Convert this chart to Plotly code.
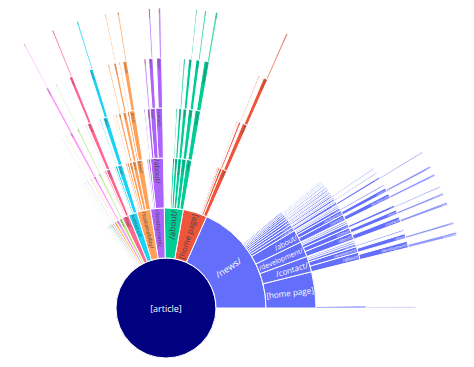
import plotly.graph_objects as go

ROOT = "[article]"
ROOT_VALUE = 3600

# Level-1 pages (value units: 0.1 degree of the full circle)
level1_paths = ["/news/", "[home page]", "/about/", "/development/", "/sustainability/",
                "/contact us/", "/blog/", "/events/", "/team/", "/careers/",
                "/projects/", "/services/", "/faq/", "/press/", "/partners/",
                "/privacy/", "/search/", "/login/", "/jobs/", "/shop/"]
level1_values = [660, 140, 110, 80, 80, 50, 40, 21, 19, 15,
                 12, 10, 8, 7, 6, 5, 4.5, 4, 3.5, 3]

news_paths = [
    "/news/|[home page]", "/news/|[home page]|/contact/", "/news/|[home page]|/contact/|/about/",
    "/news/|/contact/", "/news/|/contact/|/about/", "/news/|/contact/|/about/|/development/",
    "/news/|/contact/|/about/|/development/|[home page]",
    "/news/|/contact/|/development/", "/news/|/contact/|/development/|/about/",
    "/news/|/contact/|/development/|/about/|/contact/",
    "/news/|/contact/|/sustainability/", "/news/|/contact/|/sustainability/|/blog/",
    "/news/|/contact/|/blog/", "/news/|/contact/|/events/",
    "/news/|/development/", "/news/|/development/|/about/", "/news/|/development/|/about/|/contact/",
    "/news/|/development/|/about/|/contact/|/news/",
    "/news/|/development/|/contact/", "/news/|/development/|/contact/|/about/",
    "/news/|/development/|/contact/|/about/|[home page]",
    "/news/|/development/|/news/", "/news/|/development/|/news/|/blog/",
    "/news/|/development/|/news/|/blog/|/about/",
    "/news/|/development/|/team/", "/news/|/development/|/blog/",
    "/news/|/about/", "/news/|/about/|/contact/", "/news/|/about/|/contact/|/development/",
    "/news/|/about/|/contact/|/development/|/about/",
    "/news/|/about/|/development/", "/news/|/about/|/development/|/contact/",
    "/news/|/about/|/development/|/contact/|/news/",
    "/news/|/about/|/news/", "/news/|/about/|/news/|/about/",
    "/news/|/about/|/team/", "/news/|/about/|/careers/",
    "/news/|/sustainability/", "/news/|/sustainability/|/about/",
    "/news/|/sustainability/|/about/|/contact/",
    "/news/|/sustainability/|/about/|/contact/|/development/",
    "/news/|/sustainability/|/news/",
    "/news/|/contact us/", "/news/|/contact us/|/news/", "/news/|/contact us/|/news/|/about/",
    "/news/|/contact us/|/about/",
    "/news/|/blog/", "/news/|/blog/|/news/", "/news/|/blog/|/news/|/blog/", "/news/|/blog/|/contact/",
    "/news/|/events/", "/news/|/events/|/news/", "/news/|/events/|/about/",
    "/news/|/team/", "/news/|/team/|/about/", "/news/|/team/|/careers/",
    "/news/|/projects/", "/news/|/projects/|/news/",
    "/news/|/careers/", "/news/|/careers/|/team/",
    "/news/|/services/", "/news/|/services/|/contact/",
    "/news/|/faq/", "/news/|/faq/|/contact/",
    "/news/|/press/", "/news/|/press/|/news/",
]
news_values = [
    140, 6, 3,
    61, 22, 15, 7, 17, 11, 5, 8, 4, 6, 5,
    60, 20, 13, 6, 16, 10, 5, 11, 6, 3, 6, 5,
    50, 17, 11, 5, 14, 9, 5, 8, 4, 5, 4,
    14, 8, 5, 3, 4,
    12, 6, 3, 4,
    11, 5, 3, 4,
    10, 5, 3,
    9, 5, 3,
    8, 4,
    7, 4,
    6, 3,
    5, 3,
    5, 2,
]

home_paths = [
    "[home page]|/news/", "[home page]|/news/|/about/", "[home page]|/news/|/about/|/contact/",
    "[home page]|/news/|/about/|/contact/|/development/",
    "[home page]|/about/", "[home page]|/about/|/news/", "[home page]|/about/|/news/|/blog/",
    "[home page]|/contact/", "[home page]|/contact/|/about/",
    "[home page]|/development/",
]
home_values = [20, 14, 10, 4, 10, 6, 3, 6, 3, 4]

about_paths = [
    "/about/|/news/", "/about/|/news/|/contact/", "/about/|/news/|/contact/|/development/",
    "/about/|/news/|/contact/|/development/|/about/",
    "/about/|/contact/", "/about/|/contact/|/news/", "/about/|/contact/|/news/|/about/",
    "/about/|/contact/|/news/|/about/|/contact/",
    "/about/|/development/", "/about/|/development/|/about/", "/about/|/development/|/about/|/news/",
    "/about/|/development/|/about/|/news/|[home page]",
    "/about/|[home page]", "/about/|[home page]|/development/",
    "/about/|[home page]|/development/|/contact/",
    "/about/|/team/", "/about/|/team/|/about/", "/about/|/team/|/about/|/news/",
]
about_values = [22, 16, 12, 5, 18, 13, 9, 4, 15, 11, 8, 3, 12, 8, 5, 8, 4, 2]

dev_paths = [
    "/development/|/about/", "/development/|/about/|/contact/",
    "/development/|/about/|/contact/|/news/", "/development/|/about/|/contact/|/news/|/about/",
    "/development/|/about/|/news/", "/development/|/about/|/news/|/about/",
    "/development/|/about/|/news/|/about/|/development/",
    "/development/|/about/|[home page]", "/development/|/about/|[home page]|/contact/",
    "/development/|/news/", "/development/|/news/|/about/",
    "/development/|/contact/",
]
dev_values = [50, 20, 12, 5, 16, 10, 4, 8, 5, 8, 4, 6]

sus_paths = [
    "/sustainability/|/news/", "/sustainability/|/news/|/about/",
    "/sustainability/|/news/|/about/|/contact/", "/sustainability/|/news/|/about/|/contact/|/news/",
    "/sustainability/|/news/|/contact/", "/sustainability/|/news/|/contact/|/about/",
    "/sustainability/|/about/", "/sustainability/|/about/|/news/",
    "/sustainability/|/about/|/news/|/development/",
    "/sustainability/|/about/|/news/|/development/|/about/",
    "/sustainability/|/contact/", "/sustainability/|/contact/|/news/",
    "/sustainability/|/contact/|/news/|/about/",
    "/sustainability/|/development/", "/sustainability/|/development/|/about/",
    "/sustainability/|/blog/", "/sustainability/|/blog/|/news/",
]
sus_values = [25, 16, 10, 4, 6, 3, 16, 10, 6, 3, 12, 7, 4, 8, 4, 6, 3]

small_paths = [
    "/contact us/|/news/", "/contact us/|/news/|/about/", "/contact us/|/news/|/about/|/contact/",
    "/contact us/|/news/|/about/|/contact/|/news/", "/contact us/|/about/",
    "/contact us/|/about/|/news/", "/contact us/|/contact/",
    "/blog/|/news/", "/blog/|/news/|/about/", "/blog/|/news/|/about/|/contact/",
    "/blog/|/news/|/about/|/contact/|/news/", "/blog/|/about/", "/blog/|/about/|/news/",
    "/blog/|/contact/",
    "/events/|/news/", "/events/|/news/|/about/", "/events/|/news/|/about/|/contact/",
    "/events/|/about/",
    "/team/|/about/", "/team/|/about/|/news/", "/team/|/about/|/news/|/contact/",
    "/team/|/about/|/news/|/contact/|/about/", "/team/|/news/",
    "/careers/|/about/", "/careers/|/about/|/news/",
    "/projects/|/news/", "/projects/|/news/|/about/",
    "/services/|/contact/", "/faq/|/contact/", "/press/|/news/", "/partners/|/about/",
]
small_values = [20, 14, 9, 4, 8, 4, 5,
                16, 12, 8, 4, 6, 3, 4,
                8, 5, 3, 4,
                10, 8, 6, 3, 4,
                5, 3,
                5, 3,
                4, 3, 3, 2]

# Build the table the sunburst needs
all_paths = level1_paths + news_paths + home_paths + about_paths + dev_paths + sus_paths + small_paths
all_values = level1_values + news_values + home_values + about_values + dev_values + sus_values + small_values

# text on the blue (first colourway) branches is white, on the others dark
light_text_branches = {level1_paths[i] for i in range(0, len(level1_paths), 10)}

ids = [ROOT]
labels = [ROOT]
parents = [""]
values = [ROOT_VALUE]
text_colors = ["white"]
for p, v in zip(all_paths, all_values):
    parts = p.split("|")
    ids.append(ROOT + "|" + p)
    labels.append(parts[-1])
    parents.append(ROOT + ("|" + "|".join(parts[:-1]) if len(parts) > 1 else ""))
    values.append(v)
    text_colors.append("white" if parts[0] in light_text_branches else "#444")

fig = go.Figure(go.Sunburst(
    ids=ids, labels=labels, parents=parents, values=values,
    branchvalues="total",
    root=dict(color="navy"),
    insidetextorientation="radial",
    insidetextfont=dict(color=text_colors, size=9),
    outsidetextfont=dict(color="white", size=9),
    marker=dict(line=dict(color="white", width=1)),
))
fig.update_layout(
    width=600, height=600,
    margin=dict(l=0, r=0, t=0, b=0),
    paper_bgcolor="white",
    font=dict(family="Open Sans", size=9),
)

post = """
document.body.style.margin='0';
document.body.style.overflow='hidden';
var gd=document.getElementById('{plot_id}');
gd.style.position='absolute';
gd.style.left='-134px';
gd.style.top='8px';
"""
fig.write_html("out.html", post_script=post)
